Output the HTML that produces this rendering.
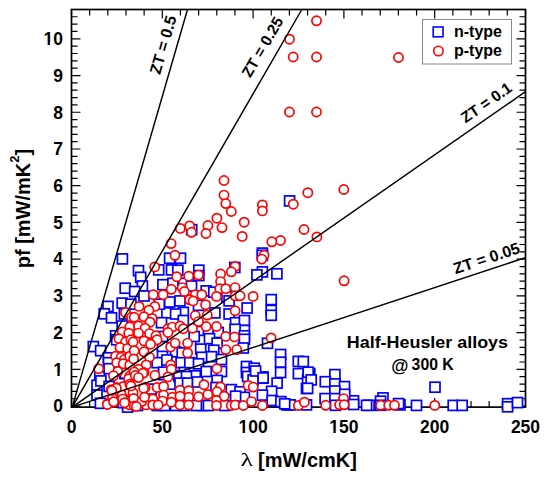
<!DOCTYPE html>
<html><head><meta charset="utf-8"><style>
html,body{margin:0;padding:0;background:#fff;}
svg{display:block;}
</style></head><body>
<svg width="550" height="480" viewBox="0 0 550 480">
<rect x="71.5" y="9.5" width="454.0" height="397.6" fill="none" stroke="#000" stroke-width="1.7"/><path d="M71.50 407.1v-9M71.50 9.5v9M89.66 407.1v-6M89.66 9.5v6M107.82 407.1v-6M107.82 9.5v6M125.98 407.1v-6M125.98 9.5v6M144.14 407.1v-6M144.14 9.5v6M162.30 407.1v-9M162.30 9.5v9M180.46 407.1v-6M180.46 9.5v6M198.62 407.1v-6M198.62 9.5v6M216.78 407.1v-6M216.78 9.5v6M234.94 407.1v-6M234.94 9.5v6M253.10 407.1v-9M253.10 9.5v9M271.26 407.1v-6M271.26 9.5v6M289.42 407.1v-6M289.42 9.5v6M307.58 407.1v-6M307.58 9.5v6M325.74 407.1v-6M325.74 9.5v6M343.90 407.1v-9M343.90 9.5v9M362.06 407.1v-6M362.06 9.5v6M380.22 407.1v-6M380.22 9.5v6M398.38 407.1v-6M398.38 9.5v6M416.54 407.1v-6M416.54 9.5v6M434.70 407.1v-9M434.70 9.5v9M452.86 407.1v-6M452.86 9.5v6M471.02 407.1v-6M471.02 9.5v6M489.18 407.1v-6M489.18 9.5v6M507.34 407.1v-6M507.34 9.5v6M525.50 407.1v-9M525.50 9.5v9M71.5 406.10h9M525.5 406.10h-9M71.5 398.75h6M525.5 398.75h-6M71.5 391.41h6M525.5 391.41h-6M71.5 384.06h6M525.5 384.06h-6M71.5 376.72h6M525.5 376.72h-6M71.5 369.37h9M525.5 369.37h-9M71.5 362.02h6M525.5 362.02h-6M71.5 354.68h6M525.5 354.68h-6M71.5 347.33h6M525.5 347.33h-6M71.5 339.99h6M525.5 339.99h-6M71.5 332.64h9M525.5 332.64h-9M71.5 325.29h6M525.5 325.29h-6M71.5 317.95h6M525.5 317.95h-6M71.5 310.60h6M525.5 310.60h-6M71.5 303.26h6M525.5 303.26h-6M71.5 295.91h9M525.5 295.91h-9M71.5 288.56h6M525.5 288.56h-6M71.5 281.22h6M525.5 281.22h-6M71.5 273.87h6M525.5 273.87h-6M71.5 266.53h6M525.5 266.53h-6M71.5 259.18h9M525.5 259.18h-9M71.5 251.83h6M525.5 251.83h-6M71.5 244.49h6M525.5 244.49h-6M71.5 237.14h6M525.5 237.14h-6M71.5 229.80h6M525.5 229.80h-6M71.5 222.45h9M525.5 222.45h-9M71.5 215.10h6M525.5 215.10h-6M71.5 207.76h6M525.5 207.76h-6M71.5 200.41h6M525.5 200.41h-6M71.5 193.07h6M525.5 193.07h-6M71.5 185.72h9M525.5 185.72h-9M71.5 178.37h6M525.5 178.37h-6M71.5 171.03h6M525.5 171.03h-6M71.5 163.68h6M525.5 163.68h-6M71.5 156.34h6M525.5 156.34h-6M71.5 148.99h9M525.5 148.99h-9M71.5 141.64h6M525.5 141.64h-6M71.5 134.30h6M525.5 134.30h-6M71.5 126.95h6M525.5 126.95h-6M71.5 119.61h6M525.5 119.61h-6M71.5 112.26h9M525.5 112.26h-9M71.5 104.91h6M525.5 104.91h-6M71.5 97.57h6M525.5 97.57h-6M71.5 90.22h6M525.5 90.22h-6M71.5 82.88h6M525.5 82.88h-6M71.5 75.53h9M525.5 75.53h-9M71.5 68.18h6M525.5 68.18h-6M71.5 60.84h6M525.5 60.84h-6M71.5 53.49h6M525.5 53.49h-6M71.5 46.15h6M525.5 46.15h-6M71.5 38.80h9M525.5 38.80h-9M71.5 31.45h6M525.5 31.45h-6M71.5 24.11h6M525.5 24.11h-6M71.5 16.76h6M525.5 16.76h-6" stroke="#000" stroke-width="1.2" fill="none"/>
<g fill="#fff" stroke-width="1.7">
<rect x="284.6" y="195.9" width="10.0" height="10.0" stroke="#0000ff"/>
<rect x="430.0" y="382.2" width="10.0" height="10.0" stroke="#0000ff"/>
<rect x="395.0" y="399.9" width="10.0" height="10.0" stroke="#0000ff"/>
<rect x="411.5" y="400.4" width="10.0" height="10.0" stroke="#0000ff"/>
<rect x="448.2" y="400.4" width="10.0" height="10.0" stroke="#0000ff"/>
<rect x="457.2" y="400.4" width="10.0" height="10.0" stroke="#0000ff"/>
<rect x="502.6" y="398.7" width="10.0" height="10.0" stroke="#0000ff"/>
<rect x="502.6" y="401.8" width="10.0" height="10.0" stroke="#0000ff"/>
<rect x="512.5" y="397.6" width="10.0" height="10.0" stroke="#0000ff"/>
<rect x="117.4" y="253.9" width="10.0" height="10.0" stroke="#0000ff"/>
<rect x="186.7" y="224.7" width="10.0" height="10.0" stroke="#0000ff"/>
<rect x="164.6" y="253.2" width="10.0" height="10.0" stroke="#0000ff"/>
<rect x="175.5" y="253.2" width="10.0" height="10.0" stroke="#0000ff"/>
<rect x="120.2" y="283.2" width="10.0" height="10.0" stroke="#0000ff"/>
<rect x="133.5" y="265.7" width="10.0" height="10.0" stroke="#0000ff"/>
<rect x="153.7" y="264.9" width="10.0" height="10.0" stroke="#0000ff"/>
<rect x="166.5" y="264.9" width="10.0" height="10.0" stroke="#0000ff"/>
<rect x="172.8" y="265.2" width="10.0" height="10.0" stroke="#0000ff"/>
<rect x="135.7" y="272.3" width="10.0" height="10.0" stroke="#0000ff"/>
<rect x="137.4" y="281.0" width="10.0" height="10.0" stroke="#0000ff"/>
<rect x="157.9" y="279.7" width="10.0" height="10.0" stroke="#0000ff"/>
<rect x="167.9" y="278.3" width="10.0" height="10.0" stroke="#0000ff"/>
<rect x="178.8" y="278.3" width="10.0" height="10.0" stroke="#0000ff"/>
<rect x="129.7" y="286.5" width="10.0" height="10.0" stroke="#0000ff"/>
<rect x="186.5" y="281.0" width="10.0" height="10.0" stroke="#0000ff"/>
<rect x="193.8" y="265.2" width="10.0" height="10.0" stroke="#0000ff"/>
<rect x="193.8" y="270.6" width="10.0" height="10.0" stroke="#0000ff"/>
<rect x="229.8" y="262.5" width="10.0" height="10.0" stroke="#0000ff"/>
<rect x="201.2" y="285.9" width="10.0" height="10.0" stroke="#0000ff"/>
<rect x="221.9" y="291.9" width="10.0" height="10.0" stroke="#0000ff"/>
<rect x="257.4" y="248.1" width="10.0" height="10.0" stroke="#0000ff"/>
<rect x="257.4" y="250.3" width="10.0" height="10.0" stroke="#0000ff"/>
<rect x="257.4" y="266.9" width="10.0" height="10.0" stroke="#0000ff"/>
<rect x="271.9" y="268.8" width="10.0" height="10.0" stroke="#0000ff"/>
<rect x="251.9" y="269.9" width="10.0" height="10.0" stroke="#0000ff"/>
<rect x="103.0" y="301.4" width="10.0" height="10.0" stroke="#0000ff"/>
<rect x="99.2" y="308.8" width="10.0" height="10.0" stroke="#0000ff"/>
<rect x="117.2" y="298.1" width="10.0" height="10.0" stroke="#0000ff"/>
<rect x="106.5" y="312.8" width="10.0" height="10.0" stroke="#0000ff"/>
<rect x="119.4" y="309.0" width="10.0" height="10.0" stroke="#0000ff"/>
<rect x="125.9" y="299.2" width="10.0" height="10.0" stroke="#0000ff"/>
<rect x="117.2" y="321.0" width="10.0" height="10.0" stroke="#0000ff"/>
<rect x="110.6" y="330.8" width="10.0" height="10.0" stroke="#0000ff"/>
<rect x="139.0" y="291.0" width="10.0" height="10.0" stroke="#0000ff"/>
<rect x="164.6" y="297.0" width="10.0" height="10.0" stroke="#0000ff"/>
<rect x="175.0" y="295.9" width="10.0" height="10.0" stroke="#0000ff"/>
<rect x="161.9" y="307.9" width="10.0" height="10.0" stroke="#0000ff"/>
<rect x="178.3" y="307.4" width="10.0" height="10.0" stroke="#0000ff"/>
<rect x="156.5" y="317.7" width="10.0" height="10.0" stroke="#0000ff"/>
<rect x="170.6" y="309.0" width="10.0" height="10.0" stroke="#0000ff"/>
<rect x="154.3" y="299.2" width="10.0" height="10.0" stroke="#0000ff"/>
<rect x="178.3" y="315.5" width="10.0" height="10.0" stroke="#0000ff"/>
<rect x="208.8" y="287.2" width="10.0" height="10.0" stroke="#0000ff"/>
<rect x="224.1" y="295.9" width="10.0" height="10.0" stroke="#0000ff"/>
<rect x="242.1" y="303.0" width="10.0" height="10.0" stroke="#0000ff"/>
<rect x="224.1" y="309.0" width="10.0" height="10.0" stroke="#0000ff"/>
<rect x="209.9" y="307.9" width="10.0" height="10.0" stroke="#0000ff"/>
<rect x="230.6" y="317.7" width="10.0" height="10.0" stroke="#0000ff"/>
<rect x="239.4" y="315.5" width="10.0" height="10.0" stroke="#0000ff"/>
<rect x="239.4" y="325.4" width="10.0" height="10.0" stroke="#0000ff"/>
<rect x="230.1" y="324.3" width="10.0" height="10.0" stroke="#0000ff"/>
<rect x="194.6" y="326.5" width="10.0" height="10.0" stroke="#0000ff"/>
<rect x="203.4" y="327.5" width="10.0" height="10.0" stroke="#0000ff"/>
<rect x="213.2" y="327.5" width="10.0" height="10.0" stroke="#0000ff"/>
<rect x="193.5" y="300.3" width="10.0" height="10.0" stroke="#0000ff"/>
<rect x="239.4" y="330.8" width="10.0" height="10.0" stroke="#0000ff"/>
<rect x="266.2" y="294.6" width="10.0" height="10.0" stroke="#0000ff"/>
<rect x="266.2" y="305.4" width="10.0" height="10.0" stroke="#0000ff"/>
<rect x="266.2" y="310.3" width="10.0" height="10.0" stroke="#0000ff"/>
<rect x="88.3" y="341.6" width="10.0" height="10.0" stroke="#0000ff"/>
<rect x="95.6" y="345.7" width="10.0" height="10.0" stroke="#0000ff"/>
<rect x="103.5" y="352.8" width="10.0" height="10.0" stroke="#0000ff"/>
<rect x="103.5" y="357.7" width="10.0" height="10.0" stroke="#0000ff"/>
<rect x="111.7" y="334.8" width="10.0" height="10.0" stroke="#0000ff"/>
<rect x="94.8" y="371.9" width="10.0" height="10.0" stroke="#0000ff"/>
<rect x="119.9" y="368.6" width="10.0" height="10.0" stroke="#0000ff"/>
<rect x="104.1" y="363.7" width="10.0" height="10.0" stroke="#0000ff"/>
<rect x="157.5" y="349.0" width="10.0" height="10.0" stroke="#0000ff"/>
<rect x="157.5" y="341.4" width="10.0" height="10.0" stroke="#0000ff"/>
<rect x="170.6" y="346.8" width="10.0" height="10.0" stroke="#0000ff"/>
<rect x="177.2" y="347.9" width="10.0" height="10.0" stroke="#0000ff"/>
<rect x="152.1" y="357.7" width="10.0" height="10.0" stroke="#0000ff"/>
<rect x="161.9" y="355.0" width="10.0" height="10.0" stroke="#0000ff"/>
<rect x="176.1" y="357.7" width="10.0" height="10.0" stroke="#0000ff"/>
<rect x="179.4" y="367.5" width="10.0" height="10.0" stroke="#0000ff"/>
<rect x="158.6" y="369.7" width="10.0" height="10.0" stroke="#0000ff"/>
<rect x="184.8" y="357.7" width="10.0" height="10.0" stroke="#0000ff"/>
<rect x="172.8" y="370.8" width="10.0" height="10.0" stroke="#0000ff"/>
<rect x="157.5" y="331.5" width="10.0" height="10.0" stroke="#0000ff"/>
<rect x="195.7" y="335.4" width="10.0" height="10.0" stroke="#0000ff"/>
<rect x="204.5" y="333.7" width="10.0" height="10.0" stroke="#0000ff"/>
<rect x="212.1" y="338.1" width="10.0" height="10.0" stroke="#0000ff"/>
<rect x="239.4" y="334.3" width="10.0" height="10.0" stroke="#0000ff"/>
<rect x="238.3" y="343.0" width="10.0" height="10.0" stroke="#0000ff"/>
<rect x="195.7" y="344.1" width="10.0" height="10.0" stroke="#0000ff"/>
<rect x="208.8" y="345.2" width="10.0" height="10.0" stroke="#0000ff"/>
<rect x="196.8" y="352.3" width="10.0" height="10.0" stroke="#0000ff"/>
<rect x="206.6" y="351.7" width="10.0" height="10.0" stroke="#0000ff"/>
<rect x="216.5" y="354.5" width="10.0" height="10.0" stroke="#0000ff"/>
<rect x="193.5" y="358.8" width="10.0" height="10.0" stroke="#0000ff"/>
<rect x="201.2" y="366.5" width="10.0" height="10.0" stroke="#0000ff"/>
<rect x="216.5" y="366.5" width="10.0" height="10.0" stroke="#0000ff"/>
<rect x="241.5" y="361.5" width="10.0" height="10.0" stroke="#0000ff"/>
<rect x="241.5" y="367.5" width="10.0" height="10.0" stroke="#0000ff"/>
<rect x="190.3" y="370.8" width="10.0" height="10.0" stroke="#0000ff"/>
<rect x="189.2" y="331.5" width="10.0" height="10.0" stroke="#0000ff"/>
<rect x="262.5" y="338.3" width="10.0" height="10.0" stroke="#0000ff"/>
<rect x="275.6" y="349.5" width="10.0" height="10.0" stroke="#0000ff"/>
<rect x="275.6" y="357.2" width="10.0" height="10.0" stroke="#0000ff"/>
<rect x="275.6" y="367.5" width="10.0" height="10.0" stroke="#0000ff"/>
<rect x="293.3" y="356.4" width="10.0" height="10.0" stroke="#0000ff"/>
<rect x="298.3" y="356.6" width="10.0" height="10.0" stroke="#0000ff"/>
<rect x="293.4" y="368.6" width="10.0" height="10.0" stroke="#0000ff"/>
<rect x="304.8" y="368.6" width="10.0" height="10.0" stroke="#0000ff"/>
<rect x="249.2" y="363.2" width="10.0" height="10.0" stroke="#0000ff"/>
<rect x="257.9" y="371.9" width="10.0" height="10.0" stroke="#0000ff"/>
<rect x="92.0" y="380.3" width="10.0" height="10.0" stroke="#0000ff"/>
<rect x="92.0" y="390.1" width="10.0" height="10.0" stroke="#0000ff"/>
<rect x="95.4" y="398.3" width="10.0" height="10.0" stroke="#0000ff"/>
<rect x="95.9" y="375.9" width="10.0" height="10.0" stroke="#0000ff"/>
<rect x="104.1" y="381.4" width="10.0" height="10.0" stroke="#0000ff"/>
<rect x="120.5" y="368.3" width="10.0" height="10.0" stroke="#0000ff"/>
<rect x="122.6" y="402.1" width="10.0" height="10.0" stroke="#0000ff"/>
<rect x="118.3" y="397.7" width="10.0" height="10.0" stroke="#0000ff"/>
<rect x="158.6" y="367.2" width="10.0" height="10.0" stroke="#0000ff"/>
<rect x="166.3" y="379.2" width="10.0" height="10.0" stroke="#0000ff"/>
<rect x="173.9" y="371.5" width="10.0" height="10.0" stroke="#0000ff"/>
<rect x="181.5" y="371.5" width="10.0" height="10.0" stroke="#0000ff"/>
<rect x="175.0" y="378.1" width="10.0" height="10.0" stroke="#0000ff"/>
<rect x="182.6" y="378.1" width="10.0" height="10.0" stroke="#0000ff"/>
<rect x="146.1" y="384.1" width="10.0" height="10.0" stroke="#0000ff"/>
<rect x="132.5" y="400.5" width="10.0" height="10.0" stroke="#0000ff"/>
<rect x="152.1" y="400.5" width="10.0" height="10.0" stroke="#0000ff"/>
<rect x="159.7" y="400.5" width="10.0" height="10.0" stroke="#0000ff"/>
<rect x="170.6" y="400.5" width="10.0" height="10.0" stroke="#0000ff"/>
<rect x="179.4" y="400.5" width="10.0" height="10.0" stroke="#0000ff"/>
<rect x="192.5" y="377.0" width="10.0" height="10.0" stroke="#0000ff"/>
<rect x="212.1" y="375.4" width="10.0" height="10.0" stroke="#0000ff"/>
<rect x="211.0" y="382.5" width="10.0" height="10.0" stroke="#0000ff"/>
<rect x="226.3" y="384.6" width="10.0" height="10.0" stroke="#0000ff"/>
<rect x="235.0" y="386.8" width="10.0" height="10.0" stroke="#0000ff"/>
<rect x="239.4" y="392.3" width="10.0" height="10.0" stroke="#0000ff"/>
<rect x="230.6" y="391.2" width="10.0" height="10.0" stroke="#0000ff"/>
<rect x="197.9" y="400.5" width="10.0" height="10.0" stroke="#0000ff"/>
<rect x="203.4" y="400.5" width="10.0" height="10.0" stroke="#0000ff"/>
<rect x="219.7" y="400.5" width="10.0" height="10.0" stroke="#0000ff"/>
<rect x="191.4" y="400.5" width="10.0" height="10.0" stroke="#0000ff"/>
<rect x="242.6" y="371.5" width="10.0" height="10.0" stroke="#0000ff"/>
<rect x="257.9" y="373.2" width="10.0" height="10.0" stroke="#0000ff"/>
<rect x="272.1" y="378.1" width="10.0" height="10.0" stroke="#0000ff"/>
<rect x="266.6" y="386.3" width="10.0" height="10.0" stroke="#0000ff"/>
<rect x="257.4" y="390.1" width="10.0" height="10.0" stroke="#0000ff"/>
<rect x="267.2" y="395.5" width="10.0" height="10.0" stroke="#0000ff"/>
<rect x="275.9" y="396.6" width="10.0" height="10.0" stroke="#0000ff"/>
<rect x="281.9" y="399.9" width="10.0" height="10.0" stroke="#0000ff"/>
<rect x="285.2" y="399.9" width="10.0" height="10.0" stroke="#0000ff"/>
<rect x="279.7" y="398.8" width="10.0" height="10.0" stroke="#0000ff"/>
<rect x="302.6" y="374.8" width="10.0" height="10.0" stroke="#0000ff"/>
<rect x="301.5" y="383.5" width="10.0" height="10.0" stroke="#0000ff"/>
<rect x="301.5" y="399.9" width="10.0" height="10.0" stroke="#0000ff"/>
<rect x="248.1" y="374.8" width="10.0" height="10.0" stroke="#0000ff"/>
<rect x="303.2" y="367.2" width="10.0" height="10.0" stroke="#0000ff"/>
<rect x="306.2" y="374.9" width="10.0" height="10.0" stroke="#0000ff"/>
<rect x="302.6" y="383.3" width="10.0" height="10.0" stroke="#0000ff"/>
<rect x="329.9" y="369.6" width="10.0" height="10.0" stroke="#0000ff"/>
<rect x="320.3" y="376.7" width="10.0" height="10.0" stroke="#0000ff"/>
<rect x="329.9" y="378.9" width="10.0" height="10.0" stroke="#0000ff"/>
<rect x="339.5" y="381.6" width="10.0" height="10.0" stroke="#0000ff"/>
<rect x="329.9" y="386.0" width="10.0" height="10.0" stroke="#0000ff"/>
<rect x="320.1" y="393.6" width="10.0" height="10.0" stroke="#0000ff"/>
<rect x="329.9" y="393.6" width="10.0" height="10.0" stroke="#0000ff"/>
<rect x="348.5" y="395.8" width="10.0" height="10.0" stroke="#0000ff"/>
<rect x="339.7" y="389.3" width="10.0" height="10.0" stroke="#0000ff"/>
<rect x="330.5" y="400.3" width="10.0" height="10.0" stroke="#0000ff"/>
<rect x="348.6" y="399.5" width="10.0" height="10.0" stroke="#0000ff"/>
<rect x="364.1" y="400.3" width="10.0" height="10.0" stroke="#0000ff"/>
<rect x="361.6" y="400.3" width="10.0" height="10.0" stroke="#0000ff"/>
<rect x="378.0" y="392.9" width="10.0" height="10.0" stroke="#0000ff"/>
<rect x="375.6" y="396.2" width="10.0" height="10.0" stroke="#0000ff"/>
<rect x="375.6" y="400.3" width="10.0" height="10.0" stroke="#0000ff"/>
<rect x="393.6" y="398.6" width="10.0" height="10.0" stroke="#0000ff"/>
<rect x="250.6" y="366.0" width="10.0" height="10.0" stroke="#0000ff"/>
<rect x="258.1" y="372.9" width="10.0" height="10.0" stroke="#0000ff"/>
<circle cx="316.5" cy="20.8" r="4.6" stroke="#ff0000"/>
<circle cx="289.5" cy="39.2" r="4.6" stroke="#ff0000"/>
<circle cx="293.2" cy="57.0" r="4.6" stroke="#ff0000"/>
<circle cx="316.5" cy="57.0" r="4.6" stroke="#ff0000"/>
<circle cx="398.5" cy="57.5" r="4.6" stroke="#ff0000"/>
<circle cx="289.5" cy="112.0" r="4.6" stroke="#ff0000"/>
<circle cx="316.5" cy="112.0" r="4.6" stroke="#ff0000"/>
<circle cx="293.3" cy="204.2" r="4.6" stroke="#ff0000"/>
<circle cx="307.8" cy="192.7" r="4.6" stroke="#ff0000"/>
<circle cx="343.8" cy="189.5" r="4.6" stroke="#ff0000"/>
<circle cx="304.0" cy="229.5" r="4.6" stroke="#ff0000"/>
<circle cx="316.9" cy="236.9" r="4.6" stroke="#ff0000"/>
<circle cx="280.5" cy="240.5" r="4.6" stroke="#ff0000"/>
<circle cx="271.8" cy="241.8" r="4.6" stroke="#ff0000"/>
<circle cx="344.1" cy="280.8" r="4.6" stroke="#ff0000"/>
<circle cx="434.8" cy="405.4" r="4.6" stroke="#ff0000"/>
<circle cx="224.0" cy="180.5" r="4.6" stroke="#ff0000"/>
<circle cx="224.0" cy="195.1" r="4.6" stroke="#ff0000"/>
<circle cx="225.8" cy="203.6" r="4.6" stroke="#ff0000"/>
<circle cx="231.3" cy="211.5" r="4.6" stroke="#ff0000"/>
<circle cx="262.4" cy="204.9" r="4.6" stroke="#ff0000"/>
<circle cx="262.4" cy="210.9" r="4.6" stroke="#ff0000"/>
<circle cx="244.2" cy="222.2" r="4.6" stroke="#ff0000"/>
<circle cx="242.2" cy="236.4" r="4.6" stroke="#ff0000"/>
<circle cx="180.3" cy="228.4" r="4.6" stroke="#ff0000"/>
<circle cx="189.6" cy="225.9" r="4.6" stroke="#ff0000"/>
<circle cx="191.5" cy="232.3" r="4.6" stroke="#ff0000"/>
<circle cx="207.9" cy="225.5" r="4.6" stroke="#ff0000"/>
<circle cx="206.0" cy="233.5" r="4.6" stroke="#ff0000"/>
<circle cx="216.9" cy="218.2" r="4.6" stroke="#ff0000"/>
<circle cx="222.0" cy="227.6" r="4.6" stroke="#ff0000"/>
<circle cx="171.1" cy="243.6" r="4.6" stroke="#ff0000"/>
<circle cx="175.0" cy="255.3" r="4.6" stroke="#ff0000"/>
<circle cx="154.7" cy="266.9" r="4.6" stroke="#ff0000"/>
<circle cx="176.7" cy="276.7" r="4.6" stroke="#ff0000"/>
<circle cx="188.7" cy="276.2" r="4.6" stroke="#ff0000"/>
<circle cx="171.3" cy="289.3" r="4.6" stroke="#ff0000"/>
<circle cx="182.2" cy="287.6" r="4.6" stroke="#ff0000"/>
<circle cx="184.4" cy="291.5" r="4.6" stroke="#ff0000"/>
<circle cx="153.3" cy="294.7" r="4.6" stroke="#ff0000"/>
<circle cx="163.1" cy="294.7" r="4.6" stroke="#ff0000"/>
<circle cx="198.5" cy="275.1" r="4.6" stroke="#ff0000"/>
<circle cx="235.1" cy="266.4" r="4.6" stroke="#ff0000"/>
<circle cx="231.3" cy="271.8" r="4.6" stroke="#ff0000"/>
<circle cx="220.6" cy="274.0" r="4.6" stroke="#ff0000"/>
<circle cx="220.6" cy="281.6" r="4.6" stroke="#ff0000"/>
<circle cx="219.8" cy="288.7" r="4.6" stroke="#ff0000"/>
<circle cx="225.8" cy="288.7" r="4.6" stroke="#ff0000"/>
<circle cx="235.1" cy="287.6" r="4.6" stroke="#ff0000"/>
<circle cx="195.3" cy="294.7" r="4.6" stroke="#ff0000"/>
<circle cx="201.8" cy="294.7" r="4.6" stroke="#ff0000"/>
<circle cx="216.5" cy="296.4" r="4.6" stroke="#ff0000"/>
<circle cx="235.1" cy="295.8" r="4.6" stroke="#ff0000"/>
<circle cx="240.0" cy="295.8" r="4.6" stroke="#ff0000"/>
<circle cx="253.1" cy="296.4" r="4.6" stroke="#ff0000"/>
<circle cx="264.0" cy="255.3" r="4.6" stroke="#ff0000"/>
<circle cx="261.8" cy="259.1" r="4.6" stroke="#ff0000"/>
<circle cx="125.5" cy="312.4" r="4.6" stroke="#ff0000"/>
<circle cx="122.2" cy="332.0" r="4.6" stroke="#ff0000"/>
<circle cx="129.8" cy="327.1" r="4.6" stroke="#ff0000"/>
<circle cx="131.5" cy="317.3" r="4.6" stroke="#ff0000"/>
<circle cx="189.8" cy="299.8" r="4.6" stroke="#ff0000"/>
<circle cx="139.1" cy="306.4" r="4.6" stroke="#ff0000"/>
<circle cx="154.9" cy="306.4" r="4.6" stroke="#ff0000"/>
<circle cx="148.9" cy="310.2" r="4.6" stroke="#ff0000"/>
<circle cx="134.2" cy="317.3" r="4.6" stroke="#ff0000"/>
<circle cx="144.0" cy="316.7" r="4.6" stroke="#ff0000"/>
<circle cx="152.2" cy="318.4" r="4.6" stroke="#ff0000"/>
<circle cx="150.0" cy="322.2" r="4.6" stroke="#ff0000"/>
<circle cx="138.5" cy="326.0" r="4.6" stroke="#ff0000"/>
<circle cx="145.1" cy="328.2" r="4.6" stroke="#ff0000"/>
<circle cx="138.5" cy="333.1" r="4.6" stroke="#ff0000"/>
<circle cx="149.5" cy="333.6" r="4.6" stroke="#ff0000"/>
<circle cx="156.0" cy="335.8" r="4.6" stroke="#ff0000"/>
<circle cx="168.0" cy="328.7" r="4.6" stroke="#ff0000"/>
<circle cx="172.4" cy="327.1" r="4.6" stroke="#ff0000"/>
<circle cx="168.0" cy="332.5" r="4.6" stroke="#ff0000"/>
<circle cx="180.0" cy="326.0" r="4.6" stroke="#ff0000"/>
<circle cx="183.3" cy="328.7" r="4.6" stroke="#ff0000"/>
<circle cx="193.1" cy="300.9" r="4.6" stroke="#ff0000"/>
<circle cx="205.6" cy="304.7" r="4.6" stroke="#ff0000"/>
<circle cx="195.3" cy="315.6" r="4.6" stroke="#ff0000"/>
<circle cx="207.3" cy="315.1" r="4.6" stroke="#ff0000"/>
<circle cx="206.2" cy="326.5" r="4.6" stroke="#ff0000"/>
<circle cx="216.5" cy="326.5" r="4.6" stroke="#ff0000"/>
<circle cx="235.1" cy="310.7" r="4.6" stroke="#ff0000"/>
<circle cx="192.5" cy="328.2" r="4.6" stroke="#ff0000"/>
<circle cx="225.8" cy="336.4" r="4.6" stroke="#ff0000"/>
<circle cx="234.5" cy="336.9" r="4.6" stroke="#ff0000"/>
<circle cx="198.5" cy="321.6" r="4.6" stroke="#ff0000"/>
<circle cx="98.7" cy="368.7" r="4.6" stroke="#ff0000"/>
<circle cx="128.7" cy="333.3" r="4.6" stroke="#ff0000"/>
<circle cx="118.9" cy="338.7" r="4.6" stroke="#ff0000"/>
<circle cx="125.5" cy="342.0" r="4.6" stroke="#ff0000"/>
<circle cx="130.9" cy="339.8" r="4.6" stroke="#ff0000"/>
<circle cx="120.0" cy="347.5" r="4.6" stroke="#ff0000"/>
<circle cx="127.6" cy="348.5" r="4.6" stroke="#ff0000"/>
<circle cx="115.6" cy="356.2" r="4.6" stroke="#ff0000"/>
<circle cx="121.1" cy="357.3" r="4.6" stroke="#ff0000"/>
<circle cx="124.4" cy="359.5" r="4.6" stroke="#ff0000"/>
<circle cx="129.8" cy="356.2" r="4.6" stroke="#ff0000"/>
<circle cx="116.7" cy="362.7" r="4.6" stroke="#ff0000"/>
<circle cx="123.3" cy="363.8" r="4.6" stroke="#ff0000"/>
<circle cx="129.8" cy="364.9" r="4.6" stroke="#ff0000"/>
<circle cx="117.8" cy="371.5" r="4.6" stroke="#ff0000"/>
<circle cx="113.5" cy="375.8" r="4.6" stroke="#ff0000"/>
<circle cx="129.8" cy="375.8" r="4.6" stroke="#ff0000"/>
<circle cx="133.1" cy="342.0" r="4.6" stroke="#ff0000"/>
<circle cx="144.0" cy="340.9" r="4.6" stroke="#ff0000"/>
<circle cx="157.1" cy="339.8" r="4.6" stroke="#ff0000"/>
<circle cx="150.5" cy="344.2" r="4.6" stroke="#ff0000"/>
<circle cx="170.7" cy="346.9" r="4.6" stroke="#ff0000"/>
<circle cx="175.1" cy="343.1" r="4.6" stroke="#ff0000"/>
<circle cx="187.6" cy="343.1" r="4.6" stroke="#ff0000"/>
<circle cx="187.6" cy="352.9" r="4.6" stroke="#ff0000"/>
<circle cx="134.2" cy="350.7" r="4.6" stroke="#ff0000"/>
<circle cx="144.0" cy="351.8" r="4.6" stroke="#ff0000"/>
<circle cx="149.5" cy="357.3" r="4.6" stroke="#ff0000"/>
<circle cx="133.6" cy="358.9" r="4.6" stroke="#ff0000"/>
<circle cx="146.2" cy="364.9" r="4.6" stroke="#ff0000"/>
<circle cx="138.5" cy="369.3" r="4.6" stroke="#ff0000"/>
<circle cx="134.2" cy="372.0" r="4.6" stroke="#ff0000"/>
<circle cx="144.0" cy="372.5" r="4.6" stroke="#ff0000"/>
<circle cx="154.9" cy="375.3" r="4.6" stroke="#ff0000"/>
<circle cx="170.7" cy="364.9" r="4.6" stroke="#ff0000"/>
<circle cx="171.3" cy="369.3" r="4.6" stroke="#ff0000"/>
<circle cx="168.0" cy="376.9" r="4.6" stroke="#ff0000"/>
<circle cx="225.8" cy="349.6" r="4.6" stroke="#ff0000"/>
<circle cx="236.7" cy="349.6" r="4.6" stroke="#ff0000"/>
<circle cx="216.9" cy="368.7" r="4.6" stroke="#ff0000"/>
<circle cx="271.1" cy="337.9" r="4.6" stroke="#ff0000"/>
<circle cx="111.3" cy="389.6" r="4.6" stroke="#ff0000"/>
<circle cx="116.7" cy="387.5" r="4.6" stroke="#ff0000"/>
<circle cx="123.3" cy="386.4" r="4.6" stroke="#ff0000"/>
<circle cx="117.8" cy="396.2" r="4.6" stroke="#ff0000"/>
<circle cx="112.4" cy="397.8" r="4.6" stroke="#ff0000"/>
<circle cx="107.5" cy="403.8" r="4.6" stroke="#ff0000"/>
<circle cx="113.5" cy="402.2" r="4.6" stroke="#ff0000"/>
<circle cx="122.2" cy="395.1" r="4.6" stroke="#ff0000"/>
<circle cx="129.8" cy="391.8" r="4.6" stroke="#ff0000"/>
<circle cx="128.7" cy="378.7" r="4.6" stroke="#ff0000"/>
<circle cx="125.5" cy="400.5" r="4.6" stroke="#ff0000"/>
<circle cx="129.8" cy="404.9" r="4.6" stroke="#ff0000"/>
<circle cx="129.8" cy="384.2" r="4.6" stroke="#ff0000"/>
<circle cx="135.3" cy="375.5" r="4.6" stroke="#ff0000"/>
<circle cx="142.9" cy="373.3" r="4.6" stroke="#ff0000"/>
<circle cx="138.5" cy="377.6" r="4.6" stroke="#ff0000"/>
<circle cx="145.1" cy="387.5" r="4.6" stroke="#ff0000"/>
<circle cx="133.1" cy="392.9" r="4.6" stroke="#ff0000"/>
<circle cx="157.1" cy="387.5" r="4.6" stroke="#ff0000"/>
<circle cx="163.6" cy="386.4" r="4.6" stroke="#ff0000"/>
<circle cx="145.1" cy="397.3" r="4.6" stroke="#ff0000"/>
<circle cx="152.7" cy="398.9" r="4.6" stroke="#ff0000"/>
<circle cx="163.6" cy="395.1" r="4.6" stroke="#ff0000"/>
<circle cx="172.4" cy="397.3" r="4.6" stroke="#ff0000"/>
<circle cx="180.0" cy="390.2" r="4.6" stroke="#ff0000"/>
<circle cx="188.7" cy="390.7" r="4.6" stroke="#ff0000"/>
<circle cx="188.7" cy="397.3" r="4.6" stroke="#ff0000"/>
<circle cx="180.0" cy="396.2" r="4.6" stroke="#ff0000"/>
<circle cx="133.6" cy="398.4" r="4.6" stroke="#ff0000"/>
<circle cx="134.2" cy="406.0" r="4.6" stroke="#ff0000"/>
<circle cx="146.2" cy="404.9" r="4.6" stroke="#ff0000"/>
<circle cx="152.7" cy="404.9" r="4.6" stroke="#ff0000"/>
<circle cx="162.5" cy="401.1" r="4.6" stroke="#ff0000"/>
<circle cx="171.3" cy="402.2" r="4.6" stroke="#ff0000"/>
<circle cx="180.0" cy="404.9" r="4.6" stroke="#ff0000"/>
<circle cx="188.7" cy="404.9" r="4.6" stroke="#ff0000"/>
<circle cx="141.8" cy="401.6" r="4.6" stroke="#ff0000"/>
<circle cx="158.2" cy="404.9" r="4.6" stroke="#ff0000"/>
<circle cx="204.0" cy="384.7" r="4.6" stroke="#ff0000"/>
<circle cx="220.4" cy="386.9" r="4.6" stroke="#ff0000"/>
<circle cx="217.1" cy="391.8" r="4.6" stroke="#ff0000"/>
<circle cx="207.8" cy="394.5" r="4.6" stroke="#ff0000"/>
<circle cx="198.5" cy="396.7" r="4.6" stroke="#ff0000"/>
<circle cx="224.2" cy="396.2" r="4.6" stroke="#ff0000"/>
<circle cx="216.5" cy="400.5" r="4.6" stroke="#ff0000"/>
<circle cx="216.5" cy="405.5" r="4.6" stroke="#ff0000"/>
<circle cx="231.3" cy="405.5" r="4.6" stroke="#ff0000"/>
<circle cx="235.1" cy="404.9" r="4.6" stroke="#ff0000"/>
<circle cx="243.3" cy="405.5" r="4.6" stroke="#ff0000"/>
<circle cx="251.5" cy="401.6" r="4.6" stroke="#ff0000"/>
<circle cx="262.4" cy="405.5" r="4.6" stroke="#ff0000"/>
<circle cx="298.4" cy="405.5" r="4.6" stroke="#ff0000"/>
<circle cx="304.4" cy="402.2" r="4.6" stroke="#ff0000"/>
<circle cx="343.6" cy="398.6" r="4.6" stroke="#ff0000"/>
<circle cx="325.7" cy="405.3" r="4.6" stroke="#ff0000"/>
<circle cx="339.6" cy="404.8" r="4.6" stroke="#ff0000"/>
<circle cx="344.2" cy="404.8" r="4.6" stroke="#ff0000"/>
<circle cx="380.6" cy="405.3" r="4.6" stroke="#ff0000"/>
<circle cx="388.7" cy="405.3" r="4.6" stroke="#ff0000"/>
<circle cx="394.5" cy="405.3" r="4.6" stroke="#ff0000"/>
<circle cx="248.2" cy="385.4" r="4.6" stroke="#ff0000"/>
<circle cx="253.3" cy="387.1" r="4.6" stroke="#ff0000"/>
<circle cx="116.4" cy="388.2" r="4.6" stroke="#ff0000"/>
<circle cx="122.7" cy="399.1" r="4.6" stroke="#ff0000"/>
<circle cx="124.5" cy="402.7" r="4.6" stroke="#ff0000"/>
<circle cx="136.4" cy="406.4" r="4.6" stroke="#ff0000"/>
<circle cx="143.6" cy="388.2" r="4.6" stroke="#ff0000"/>
<circle cx="144.5" cy="397.3" r="4.6" stroke="#ff0000"/>
<circle cx="107.3" cy="404.5" r="4.6" stroke="#ff0000"/>
<circle cx="113.6" cy="401.8" r="4.6" stroke="#ff0000"/>
<circle cx="130.9" cy="385.9" r="4.6" stroke="#ff0000"/>
<circle cx="111.8" cy="390.5" r="4.6" stroke="#ff0000"/>
</g>
<path d="M72.2 407.1L187.5 9.5M72.2 407.1L301.8 9.5M72.2 407.1L525.5 91.7M72.2 407.1L525.5 257.6" stroke="#000" stroke-width="1.45" fill="none"/>
<text x="63" y="412.3" text-anchor="end" font-size="17.5" font-family="Liberation Sans, sans-serif" font-weight="bold">0</text><text x="63" y="375.6" text-anchor="end" font-size="17.5" font-family="Liberation Sans, sans-serif" font-weight="bold">1</text><text x="63" y="338.8" text-anchor="end" font-size="17.5" font-family="Liberation Sans, sans-serif" font-weight="bold">2</text><text x="63" y="302.1" text-anchor="end" font-size="17.5" font-family="Liberation Sans, sans-serif" font-weight="bold">3</text><text x="63" y="265.4" text-anchor="end" font-size="17.5" font-family="Liberation Sans, sans-serif" font-weight="bold">4</text><text x="63" y="228.7" text-anchor="end" font-size="17.5" font-family="Liberation Sans, sans-serif" font-weight="bold">5</text><text x="63" y="191.9" text-anchor="end" font-size="17.5" font-family="Liberation Sans, sans-serif" font-weight="bold">6</text><text x="63" y="155.2" text-anchor="end" font-size="17.5" font-family="Liberation Sans, sans-serif" font-weight="bold">7</text><text x="63" y="118.5" text-anchor="end" font-size="17.5" font-family="Liberation Sans, sans-serif" font-weight="bold">8</text><text x="63" y="81.7" text-anchor="end" font-size="17.5" font-family="Liberation Sans, sans-serif" font-weight="bold">9</text><text x="63" y="45.0" text-anchor="end" font-size="17.5" font-family="Liberation Sans, sans-serif" font-weight="bold">10</text><text x="71.5" y="433" text-anchor="middle" font-size="17.5" font-family="Liberation Sans, sans-serif" font-weight="bold">0</text><text x="162.3" y="433" text-anchor="middle" font-size="17.5" font-family="Liberation Sans, sans-serif" font-weight="bold">50</text><text x="253.1" y="433" text-anchor="middle" font-size="17.5" font-family="Liberation Sans, sans-serif" font-weight="bold">100</text><text x="343.9" y="433" text-anchor="middle" font-size="17.5" font-family="Liberation Sans, sans-serif" font-weight="bold">150</text><text x="434.7" y="433" text-anchor="middle" font-size="17.5" font-family="Liberation Sans, sans-serif" font-weight="bold">200</text><text x="525.5" y="433" text-anchor="middle" font-size="17.5" font-family="Liberation Sans, sans-serif" font-weight="bold">250</text><text transform="translate(240.5 466) scale(1.35 1)" font-size="19" font-family="Liberation Serif, serif">&#955;</text><text x="258" y="466.5" font-size="20" font-family="Liberation Sans, sans-serif" font-weight="bold">[mW/cmK]</text><text transform="translate(29.8 268.3) rotate(-90)" font-size="20" font-family="Liberation Sans, sans-serif" font-weight="bold">pf [mW/mK<tspan dy="-11" font-size="13">2</tspan><tspan dy="11">]</tspan></text><rect x="53.79" y="373.12" width="3.59" height="3.45" fill="#fff"/><rect x="59.67" y="373.12" width="3.50" height="3.45" fill="#fff"/><rect x="44.06" y="42.55" width="3.59" height="3.45" fill="#fff"/><rect x="49.95" y="42.55" width="3.50" height="3.45" fill="#fff"/><rect x="239.03" y="430.55" width="3.59" height="3.45" fill="#fff"/><rect x="244.91" y="430.55" width="3.50" height="3.45" fill="#fff"/><rect x="329.83" y="430.55" width="3.59" height="3.45" fill="#fff"/><rect x="335.71" y="430.55" width="3.50" height="3.45" fill="#fff"/><text transform="translate(160.0 75.2) rotate(-73.9)" font-size="16" font-family="Liberation Sans, sans-serif" font-weight="bold">ZT = 0.5</text><text transform="translate(250.3 78.6) rotate(-59.9)" font-size="15.5" font-family="Liberation Sans, sans-serif" font-weight="bold">ZT = 0.25</text><text transform="translate(465.4 123.6) rotate(-34.8)" font-size="15.5" font-family="Liberation Sans, sans-serif" font-weight="bold">ZT = 0.1</text><text transform="translate(455.6 274.2) rotate(-18.2)" font-size="16" font-family="Liberation Sans, sans-serif" font-weight="bold">ZT = 0.05</text><rect x="422.5" y="19.5" width="89" height="44.5" fill="#fff" stroke="#888" stroke-width="1"/><rect x="433.2" y="27" width="9.8" height="9.8" fill="#fff" stroke="#0000ff" stroke-width="1.6"/><circle cx="438.4" cy="51" r="4.7" fill="#fff" stroke="#ff0000" stroke-width="1.6"/><text x="454" y="36.5" font-size="16" font-family="Liberation Sans, sans-serif" font-weight="bold">n-type</text><text x="454" y="55.5" font-size="16" font-family="Liberation Sans, sans-serif" font-weight="bold">p-type</text><text x="346.8" y="348.3" font-size="17.3" textLength="161.2" lengthAdjust="spacingAndGlyphs" font-family="Liberation Sans, sans-serif" font-weight="bold">Half-Heusler alloys</text><text x="391.2" y="371.6" font-size="17.6" font-family="Liberation Sans, sans-serif" font-weight="bold">@</text><text x="411.6" y="369.6" font-size="15.8" font-family="Liberation Sans, sans-serif" font-weight="bold">300 K</text>
</svg>
</body></html>
